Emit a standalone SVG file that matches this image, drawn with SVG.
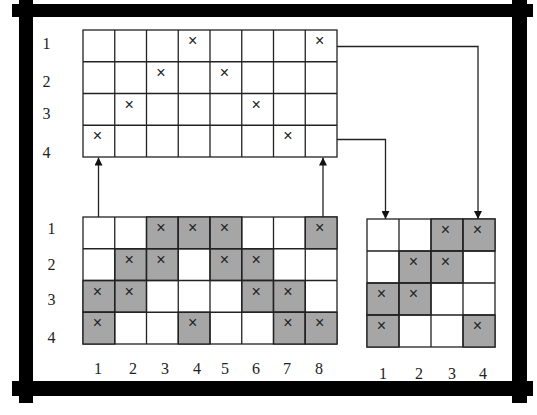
<svg xmlns="http://www.w3.org/2000/svg" width="537" height="415" viewBox="0 0 537 415">
<style>
.bar{fill:#000}
.g{fill:#fff;stroke:#222;stroke-width:1.3}
.s{fill:#a6a6a6;stroke:#222;stroke-width:1.3}
.ln{stroke:#222;stroke-width:1.3;fill:none}
.x{font-family:"Liberation Sans",Arial,sans-serif;font-size:16px;fill:#222;text-anchor:middle}
.lb{font-family:"Liberation Serif","Times New Roman",serif;font-size:16px;fill:#222;text-anchor:middle}
.c{stroke:#222;stroke-width:1.3;fill:none;marker-end:url(#ah)}
</style>
<defs>
<marker id="ah" viewBox="0 0 10 10" refX="10" refY="5" markerWidth="8" markerHeight="8" markerUnits="userSpaceOnUse" orient="auto">
<path d="M0,0 L10,5 L0,10 z" fill="#111"/>
</marker>
</defs>
<rect width="537" height="415" fill="#fff"/>
<g id="frame">
<rect class="bar" x="12" y="4" width="521" height="13"/>
<rect class="bar" x="12" y="381" width="521" height="15"/>
<rect class="bar" x="19" y="0" width="14" height="403"/>
<rect class="bar" x="512" y="0" width="15" height="403"/>
</g>
<g id="top-grid">
<rect class="g" x="83" y="30" width="254" height="127"/>
<path class="ln" d="M114.75,30V157M146.5,30V157M178.25,30V157M210,30V157M241.75,30V157M273.5,30V157M305.25,30V157M83,61.75H337M83,93.5H337M83,125.25H337"/>
<text class="x" x="192.6" y="46">×</text>
<text class="x" x="319.6" y="46">×</text>
<text class="x" x="160.9" y="77.75">×</text>
<text class="x" x="224.4" y="77.75">×</text>
<text class="x" x="129.1" y="109.5">×</text>
<text class="x" x="256.1" y="109.5">×</text>
<text class="x" x="97.4" y="141.25">×</text>
<text class="x" x="287.9" y="141.25">×</text>
<text class="lb" x="46.5" y="49">1</text>
<text class="lb" x="46.5" y="87">2</text>
<text class="lb" x="46.5" y="119">3</text>
<text class="lb" x="46.5" y="158">4</text>
</g>
<g id="bottom-grid">
<rect class="g" x="83" y="217" width="254" height="127"/>
<rect class="s" x="146.5" y="217" width="31.75" height="31.75"/>
<rect class="s" x="178.25" y="217" width="31.75" height="31.75"/>
<rect class="s" x="210" y="217" width="31.75" height="31.75"/>
<rect class="s" x="305.25" y="217" width="31.75" height="31.75"/>
<rect class="s" x="114.75" y="248.75" width="31.75" height="31.75"/>
<rect class="s" x="146.5" y="248.75" width="31.75" height="31.75"/>
<rect class="s" x="210" y="248.75" width="31.75" height="31.75"/>
<rect class="s" x="241.75" y="248.75" width="31.75" height="31.75"/>
<rect class="s" x="83" y="280.5" width="31.75" height="31.75"/>
<rect class="s" x="114.75" y="280.5" width="31.75" height="31.75"/>
<rect class="s" x="241.75" y="280.5" width="31.75" height="31.75"/>
<rect class="s" x="273.5" y="280.5" width="31.75" height="31.75"/>
<rect class="s" x="83" y="312.25" width="31.75" height="31.75"/>
<rect class="s" x="178.25" y="312.25" width="31.75" height="31.75"/>
<rect class="s" x="273.5" y="312.25" width="31.75" height="31.75"/>
<rect class="s" x="305.25" y="312.25" width="31.75" height="31.75"/>
<path class="ln" d="M114.75,217V344M146.5,217V344M178.25,217V344M210,217V344M241.75,217V344M273.5,217V344M305.25,217V344M83,248.75H337M83,280.5H337M83,312.25H337"/>
<text class="x" x="160.9" y="233">×</text>
<text class="x" x="192.6" y="233">×</text>
<text class="x" x="224.4" y="233">×</text>
<text class="x" x="319.6" y="233">×</text>
<text class="x" x="129.1" y="264.75">×</text>
<text class="x" x="160.9" y="264.75">×</text>
<text class="x" x="224.4" y="264.75">×</text>
<text class="x" x="256.1" y="264.75">×</text>
<text class="x" x="97.4" y="296.5">×</text>
<text class="x" x="129.1" y="296.5">×</text>
<text class="x" x="256.1" y="296.5">×</text>
<text class="x" x="287.9" y="296.5">×</text>
<text class="x" x="97.4" y="328.25">×</text>
<text class="x" x="192.6" y="328.25">×</text>
<text class="x" x="287.9" y="328.25">×</text>
<text class="x" x="319.6" y="328.25">×</text>
<text class="lb" x="51.5" y="234">1</text>
<text class="lb" x="51.5" y="270">2</text>
<text class="lb" x="51.5" y="305">3</text>
<text class="lb" x="51.5" y="343">4</text>
<text class="lb" x="98" y="374">1</text>
<text class="lb" x="133" y="374">2</text>
<text class="lb" x="165" y="374">3</text>
<text class="lb" x="197" y="374">4</text>
<text class="lb" x="225" y="374">5</text>
<text class="lb" x="256" y="374">6</text>
<text class="lb" x="287" y="374">7</text>
<text class="lb" x="319" y="374">8</text>
</g>
<g id="right-grid">
<rect class="g" x="367" y="219" width="128" height="128"/>
<rect class="s" x="431" y="219" width="32" height="32"/>
<rect class="s" x="463" y="219" width="32" height="32"/>
<rect class="s" x="399" y="251" width="32" height="32"/>
<rect class="s" x="431" y="251" width="32" height="32"/>
<rect class="s" x="367" y="283" width="32" height="32"/>
<rect class="s" x="399" y="283" width="32" height="32"/>
<rect class="s" x="367" y="315" width="32" height="32"/>
<rect class="s" x="463" y="315" width="32" height="32"/>
<path class="ln" d="M399,219V347M431,219V347M463,219V347M367,251H495M367,283H495M367,315H495"/>
<text class="x" x="445.5" y="235">×</text>
<text class="x" x="477.5" y="235">×</text>
<text class="x" x="413.5" y="267">×</text>
<text class="x" x="445.5" y="267">×</text>
<text class="x" x="381.5" y="299">×</text>
<text class="x" x="413.5" y="299">×</text>
<text class="x" x="381.5" y="331">×</text>
<text class="x" x="477.5" y="331">×</text>
<text class="lb" x="383" y="379">1</text>
<text class="lb" x="419" y="379">2</text>
<text class="lb" x="452" y="379">3</text>
<text class="lb" x="483" y="379">4</text>
</g>
<g id="connectors">
<path class="c" d="M98.5,217V157.5"/>
<path class="c" d="M323,217V157.5"/>
<path class="c" d="M337,46.5H478V219"/>
<path class="c" d="M337,139.5H385.5V219"/>
</g>
</svg>
